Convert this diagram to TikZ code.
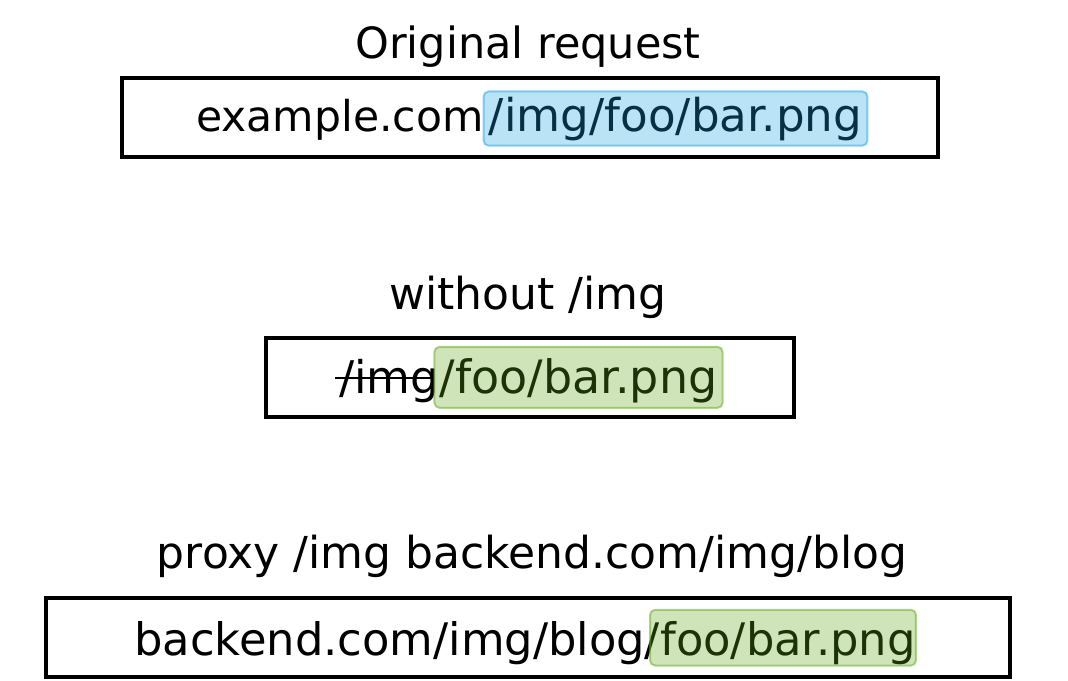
\documentclass[tikz,border=0pt]{standalone}
\usepackage{fontspec}
\setmainfont{DejaVu Sans}
\usetikzlibrary{positioning,fit}

\definecolor{markblue}{HTML}{1BA1E2}
\definecolor{markgreen}{HTML}{60A917}

\tikzset{
  url/.style={font=\fontsize{44}{52}\selectfont, inner sep=0pt},
  urlbox/.style={draw, line width=3.5pt, inner sep=0pt, minimum height=79pt},
  hlmark/.style={rounded corners=5pt, line width=2pt, fill opacity=0.3, draw opacity=0.5, inner xsep=5pt, inner ysep=5pt},
  markb/.style={hlmark, fill=markblue, draw=markblue},
  markg/.style={hlmark, fill=markgreen, draw=markgreen},
  strike/.style={line width=2pt}
}

\begin{document}
\begin{tikzpicture}[x=1pt,y=-1pt]
  \useasboundingbox (0,0) rectangle (1068,680);

  \node[url, font=\fontsize{43}{52}\selectfont, anchor=base] (title1) at (528,58) {Original request};
  \node[urlbox, minimum width=816pt] (box1) at (530,117.5) {};
  \node[url, font=\fontsize{42.5}{52}\selectfont, anchor=base west] (host1) at (196,131) {example.com};
  \node[url, font=\fontsize{45.2}{52}\selectfont, base right=5pt of host1] (path1) {/img/foo/bar.png};
  \node[markb, fit=(path1)] (mark1) {};

  \node[url, anchor=base] (title2) at (528,309) {without /img};
  \node[urlbox, minimum width=528pt] (box2) at (530,377.5) {};
  \node[url, font=\fontsize{45}{52}\selectfont, anchor=base west] (cut2) at (339,393) {/img};
  \node[url, font=\fontsize{46}{52}\selectfont, base right=0pt of cut2] (path2) {/foo/bar.png};
  \draw[strike] ([xshift=-4pt,yshift=15pt]cut2.base west) -- ([xshift=-6pt,yshift=15pt]cut2.base east);
  \node[markg, fit=(path2), inner ysep=8pt, yshift=3pt] (mark2) {};

  \node[url, anchor=base] (title3) at (532,568) {proxy /img backend.com/img/blog};
  \node[urlbox, minimum width=964pt] (box3) at (528,637.5) {};
  \node[url, font=\fontsize{44.8}{52}\selectfont, anchor=base west] (host3) at (134,655) {backend.com/img/blog/};
  \node[url, font=\fontsize{44.8}{52}\selectfont, base right=0pt of host3] (path3) {foo/bar.png};
  \node[markg, fit=(path3), inner xsep=5pt, inner ysep=6pt, xshift=-5pt, yshift=5pt] (mark3) {};
\end{tikzpicture}
\end{document}
